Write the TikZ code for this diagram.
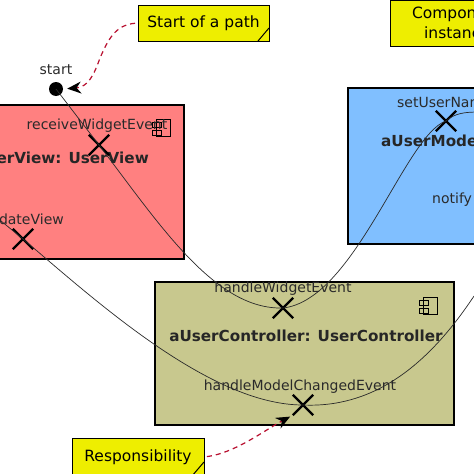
\documentclass[tikz,border=0pt]{standalone}
\usepackage{fontspec}
\setmainfont{DejaVu Sans}
\usetikzlibrary{arrows.meta,positioning,shapes.misc}
\definecolor{viewred}{HTML}{FF8080}
\definecolor{modelblue}{HTML}{80BFFF}
\definecolor{ctrlolive}{HTML}{C8C88E}
\definecolor{noteyellow}{HTML}{EEEE00}
\definecolor{linkred}{HTML}{B81030}
\definecolor{inkgrey}{HTML}{2A2A2A}
\tikzset{compicon/.pic={
  \draw[line width=1pt] (-5,-8) rectangle (9,9);
  \draw[line width=1pt] (-9,-5) rectangle (0,0);
  \draw[line width=1pt] (-9,3) rectangle (0,8);}}

\begin{document}
\begin{tikzpicture}[x=1pt,y=-1pt,
  node distance=1pt,
  comp/.style={draw=black,line width=2pt,anchor=north west,inner sep=0pt,outer sep=0pt},
  title/.style={font=\fontsize{15.2}{18}\selectfont\bfseries,text=black!85,inner sep=0pt},
  resp/.style={font=\fontsize{14}{16}\selectfont,text=inkgrey,inner sep=0pt},
  cross/.style={cross out,draw=black,line width=2.4pt,minimum size=18pt,inner sep=0pt},
  ucm/.style={draw=inkgrey,line width=.7pt},
  note/.style={draw=black,line width=1pt,fill=noteyellow,anchor=north west,inner sep=0pt,outer sep=0pt,align=center,
    font=\fontsize{15.5}{20}\selectfont},
  noteline/.style={linkred,line width=1.2pt,dash pattern=on 5pt off 4pt,-{Stealth[length=14pt,width=12pt,black]}}]
\useasboundingbox (0,0) rectangle (474,474);
\clip (0,0) rectangle (474,474);
% components
\node[comp,fill=viewred,minimum width=204pt,minimum height=154pt] (view) at (-20,105) {};
\node[comp,fill=modelblue,minimum width=150pt,minimum height=156pt] (model) at (348,88) {};
\node[comp,fill=ctrlolive,minimum width=299pt,minimum height=143pt] (ctrl) at (155,282) {};
\pic at (161,127) {compicon};
\pic at (428,305) {compicon};
\node[title,anchor=east] (viewname) at (149,158) {aUserView: UserView};
\node[title,anchor=west] (modelname) at (381,141) {aUserModel: UserModel};
\node[title] (ctrlname) at (306,336) {aUserController: UserController};
% responsibilities
\node[circle,fill=black,minimum size=14pt,inner sep=0pt] (start) at (56,89) {};
\node[resp,above=7pt of start] (startlabel) {start};
\node[cross] (recv) at (99,145) {};
\node[cross] (update) at (23,239) {};
\node[cross] (widget) at (283,308) {};
\node[cross] (changed) at (303,405) {};
\node[cross] (setname) at (446,121) {};
\node[resp] (recvlabel) at (97,126) {receiveWidgetEvent};
\node[resp,anchor=east] (updatelabel) at (64,221) {updateView};
\node[resp] (widgetlabel) at (283,289) {handleWidgetEvent};
\node[resp] (changedlabel) at (300,387) {handleModelChangedEvent};
\node[resp,anchor=west] (setlabel) at (397,102) {setUserName};
\node[resp,anchor=west] (notifylabel) at (432,200) {notify};
\coordinate (pathin) at (-5,216);
\coordinate (pathout) at (474,296);
\coordinate (modelout) at (480,112);
% paths
\draw[ucm] (start.center) -- (recv.center)
  .. controls (160,225) and (215,310) .. (widget.center)
  .. controls (355,300) and (405,135) .. (setname.center)
  .. controls (455,113) and (465,112) .. (modelout);
\draw[ucm] (pathin) -- (update.center)
  .. controls (95,300) and (210,405) .. (changed.center)
  .. controls (370,408) and (425,370) .. (pathout);
% notes
\node[note,minimum width=131pt,minimum height=36pt] (startnote) at (138,5) {Start of a path};
\node[note,minimum width=134pt,minimum height=46pt] (compnote) at (390,0) {Component\\instance};
\node[note,minimum width=132pt,minimum height=38pt] (respnote) at (72,438) {Responsibility};
\draw[line width=1pt] (startnote.south east) ++(-11,0) -- ++(11,-13);
\draw[line width=1pt] (respnote.south east) ++(-12,0) -- ++(12,-14);
\draw[noteline,shorten >=4pt,shorten <=3pt] (startnote.west) .. controls (115,25) and (108,40) .. (100,58)
  .. controls (94,75) and (88,87) .. (start.east);
\draw[noteline,shorten >=3pt,shorten <=3pt] (respnote.east) .. controls (235,453) and (265,430) .. (changed.south west);
\end{tikzpicture}
\end{document}
